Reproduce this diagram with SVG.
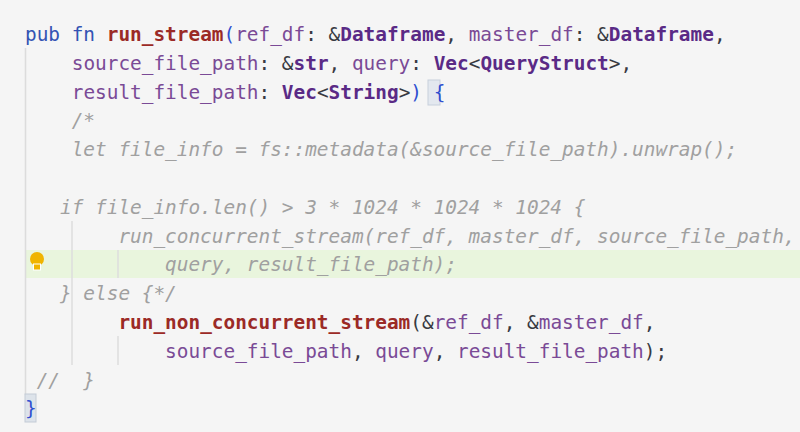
<svg xmlns="http://www.w3.org/2000/svg" width="800" height="432" viewBox="0 0 800 432">
<style>
text{font-family:"DejaVu Sans Mono","Liberation Mono",monospace;font-size:19.4px;fill:#383a42;white-space:pre}
.k{fill:#3353b3}.f{fill:#9b2a26;font-weight:bold}.v{fill:#7a4a96}.t{fill:#5a2a86;font-weight:bold}
.c{fill:#a0a0a0;font-style:italic}.b{fill:#2f4fd0}
.g{stroke:#dcdcdc;stroke-width:1.5}
</style>
<rect width="800" height="432" fill="#f5f5f5"/>
<rect x="25" y="250" width="775" height="28" fill="#e9f5dd"/>
<g id="guides">
<line class="g" x1="25.5" y1="48" x2="25.5" y2="395"/>
<line class="g" x1="72" y1="221" x2="72" y2="365"/>
<line class="g" x1="118" y1="250" x2="118" y2="278" stroke="#b8c4b0"/>
<line class="g" x1="118" y1="336" x2="118" y2="365"/>
</g>
<rect x="25" y="394" width="11" height="28" fill="#dde3ea" stroke="#c3cbd6"/>
<rect x="428" y="80" width="12" height="25" fill="#e3e8ef" stroke="#c7d0dc"/>
<g id="bulb">
<circle cx="37" cy="259" r="7" fill="#f0b400"/>
<rect x="33.5" y="264" width="7" height="6" fill="#f0b400" stroke="#fff" stroke-width="1"/>
</g>
<g id="code">
<text x="25" y="41" xml:space="preserve"><tspan class="k">pub fn </tspan><tspan class="f">run_stream</tspan><tspan class="b">(</tspan><tspan class="v">ref_df</tspan>: &amp;<tspan class="t">Dataframe</tspan>, <tspan class="v">master_df</tspan>: &amp;<tspan class="t">Dataframe</tspan>,</text>
<text x="25" y="70" xml:space="preserve">    <tspan class="v">source_file_path</tspan>: &amp;<tspan class="t">str</tspan>, <tspan class="v">query</tspan>: <tspan class="t">Vec</tspan>&lt;<tspan class="t">QueryStruct</tspan>&gt;,</text>
<text x="25" y="99" xml:space="preserve">    <tspan class="v">result_file_path</tspan>: <tspan class="t">Vec</tspan>&lt;<tspan class="t">String</tspan>&gt;<tspan class="b">)</tspan> <tspan class="b">{</tspan></text>
<text x="25" y="127" class="c" xml:space="preserve">    /*</text>
<text x="25" y="156" class="c" xml:space="preserve">    let file_info = fs::metadata(&amp;source_file_path).unwrap();</text>
<text x="25" y="214" class="c" xml:space="preserve">   if file_info.len() &gt; 3 * 1024 * 1024 * 1024 {</text>
<text x="25" y="243" class="c" xml:space="preserve">        run_concurrent_stream(ref_df, master_df, source_file_path,</text>
<text x="25" y="271" class="c" xml:space="preserve">            query, result_file_path);</text>
<text x="25" y="300" class="c" xml:space="preserve">   } else {*/</text>
<text x="25" y="329" xml:space="preserve">        <tspan class="f">run_non_concurrent_stream</tspan>(&amp;<tspan class="v">ref_df</tspan>, &amp;<tspan class="v">master_df</tspan>,</text>
<text x="25" y="358" xml:space="preserve">            <tspan class="v">source_file_path</tspan>, <tspan class="v">query</tspan>, <tspan class="v">result_file_path</tspan>);</text>
<text x="25" y="387" class="c" xml:space="preserve"> //  }</text>
<text x="25" y="415" class="b">}</text>
</g>
</svg>
